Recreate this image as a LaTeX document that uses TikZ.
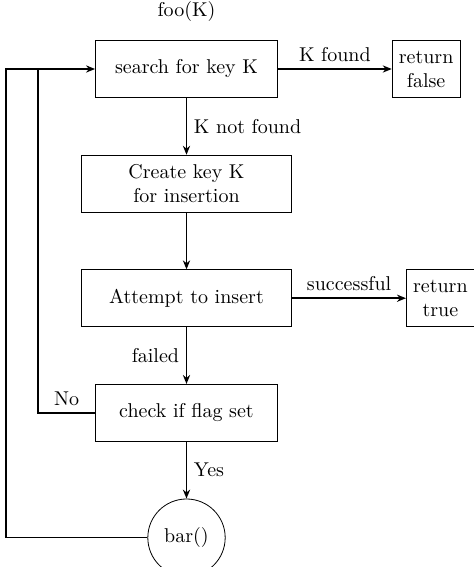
\documentclass[tikz,border=0pt]{standalone}
\usepackage{tikz}
\usetikzlibrary{arrows.meta, positioning, calc}
\tikzset{
  blk/.style={draw, align=center, minimum height=1cm},
  arr/.style={-{Stealth[length=4.5pt,width=3.6pt]}, thick}
}
\begin{document}
\begin{tikzpicture}
  \useasboundingbox (-93.25pt,34.5pt) rectangle (143.75pt,-249pt);
  \node[blk, minimum width=3.2cm] (search) {search for key K};
  \node[above=0.2cm of search] (foo) {foo(K)};
  \node[blk, right=2cm of search] (retf) {return\\false};
  \node[blk, minimum width=3.7cm, below=1cm of search] (create) {Create key K\\for insertion};
  \node[blk, minimum width=3.7cm, below=1cm of create] (attempt) {Attempt to insert};
  \node[blk, right=2cm of attempt] (rett) {return\\true};
  \node[blk, minimum width=3.2cm, below=1cm of attempt] (check) {check if flag set};
  \node[draw, circle, minimum size=1.36cm, below=1cm of check] (bar) {bar()};
  \draw[arr] (search) -- node[above]{K found} (retf);
  \draw[arr] (search) -- node[right]{K not found} (create);
  \draw[arr] (create) -- (attempt);
  \draw[arr] (attempt) -- node[above]{successful} (rett);
  \draw[arr] (attempt) -- node[left]{failed} (check);
  \draw[arr] (check) -- node[right]{Yes} (bar);
  % loops back to the search
  \coordinate (inner) at ($(search.west)+(-1cm,0)$);
  \coordinate (outer) at ($(search.west)+(-1.56cm,0)$);
  \draw[thick] (check.west) -- node[above]{No} (check.west -| inner) -- (inner);
  \draw[arr] (bar.west) -| (outer) -- (search.west);
\end{tikzpicture}
\end{document}
